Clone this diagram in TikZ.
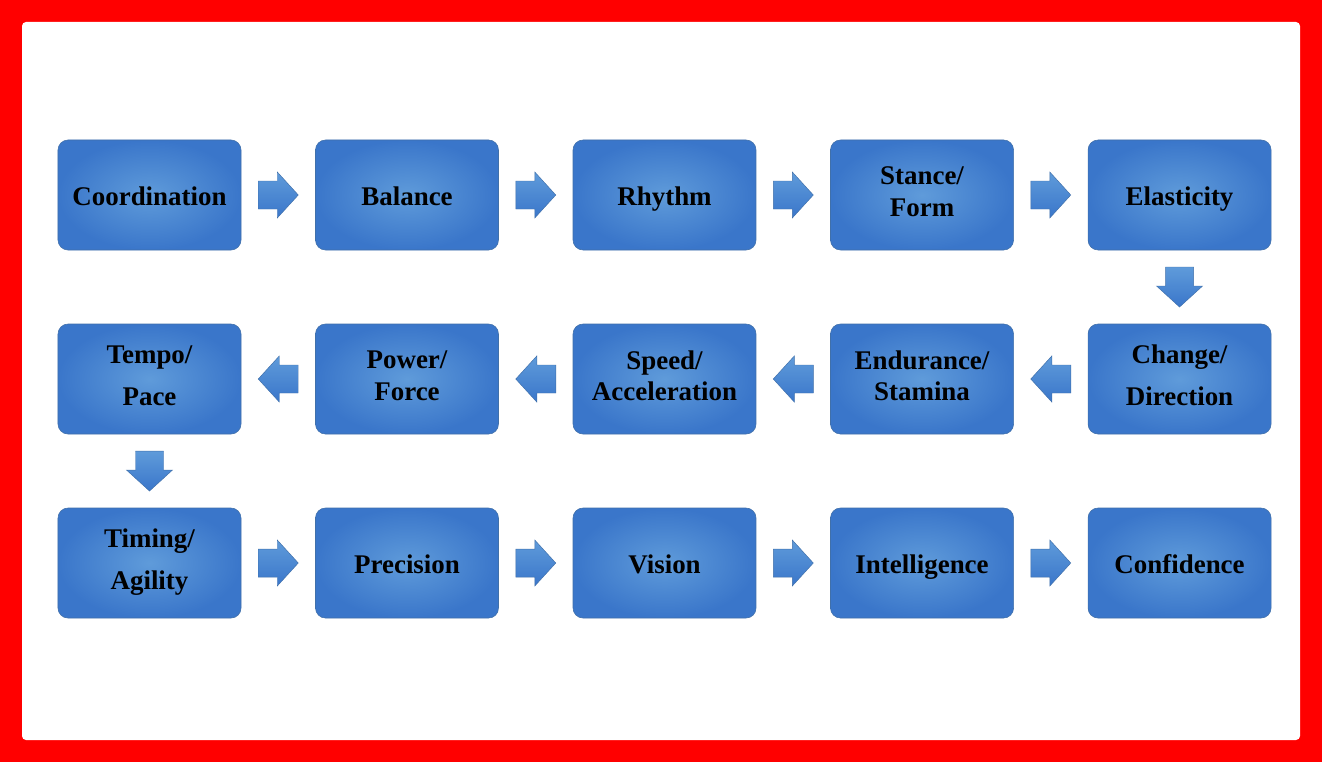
\documentclass[tikz,border=0pt]{standalone}
\usepackage{fontspec}
\setmainfont{Liberation Serif}
\usepackage{tikz}
\usetikzlibrary{calc, positioning}

\definecolor{frame}{RGB}{255,0,0}
\definecolor{boxlight}{RGB}{95,155,218}
\definecolor{boxdark}{RGB}{58,118,202}
\definecolor{boxedge}{RGB}{64,112,170}

\tikzset{
    skill/.style={rounded corners=0.3cm, draw=boxedge, line width=0.5pt,
        inner color=boxlight, outer color=boxdark,
        minimum width=5.49cm, minimum height=3.3cm, inner sep=0pt, outer sep=0pt,
        align=center, font=\fontsize{23}{27}\selectfont\bfseries,
        execute at begin node=\rule{0pt}{23.6pt},
        execute at end node=\rule[-6pt]{0pt}{6pt}},
    blockarrow/.pic={
        \draw[draw=boxedge, line width=0.4pt, top color=boxlight, bottom color=boxdark]
            (-20,-14) -- (-1,-14) -- (-1,-23) -- (20,0) -- (-1,23) -- (-1,14) -- (-20,14) -- cycle;
    }
}

\begin{document}
\begin{tikzpicture}[x=0.03cm, y=-0.03cm]
    % 1. Khung nền
    \fill[frame] (0,0) rectangle (1322,762);
    \fill[white, rounded corners=0.12cm] (22,22) rectangle (1300,740);
    \useasboundingbox (0,0) rectangle (1322,762);

    % 2. Hàng 1
    \node[skill] (coord) at (149.5,195) {Coordination};
    \node[skill, right=2.235cm of coord] (balance) {Balance};
    \node[skill, right=2.235cm of balance] (rhythm) {Rhythm};
    \node[skill, right=2.235cm of rhythm] (stance) {Stance/\\Form};
    \node[skill, right=2.235cm of stance] (elastic) {Elasticity};

    % 3. Hàng 2 (từ phải sang trái)
    \node[skill, below=2.22cm of elastic] (change) {Change/\\[9pt]Direction};
    \node[skill, left=2.235cm of change] (endur) {Endurance/\\Stamina};
    \node[skill, left=2.235cm of endur] (speed) {Speed/\\Acceleration};
    \node[skill, left=2.235cm of speed] (power) {Power/\\Force};
    \node[skill, left=2.235cm of power] (tempo) {Tempo/\\[9pt]Pace};

    % 4. Hàng 3
    \node[skill, below=2.22cm of tempo] (timing) {Timing/\\[9pt]Agility};
    \node[skill, right=2.235cm of timing] (precision) {Precision};
    \node[skill, right=2.235cm of precision] (vision) {Vision};
    \node[skill, right=2.235cm of vision] (intel) {Intelligence};
    \node[skill, right=2.235cm of intel] (confid) {Confidence};

    % 5. Mũi tên khối
    \pic at ($(coord.east)!0.5!(balance.west)$) {blockarrow};
    \pic at ($(balance.east)!0.5!(rhythm.west)$) {blockarrow};
    \pic at ($(rhythm.east)!0.5!(stance.west)$) {blockarrow};
    \pic at ($(stance.east)!0.5!(elastic.west)$) {blockarrow};
    \pic[rotate=-90] at ($(elastic.south)!0.5!(change.north)$) {blockarrow};
    \pic[rotate=180] at ($(change.west)!0.5!(endur.east)$) {blockarrow};
    \pic[rotate=180] at ($(endur.west)!0.5!(speed.east)$) {blockarrow};
    \pic[rotate=180] at ($(speed.west)!0.5!(power.east)$) {blockarrow};
    \pic[rotate=180] at ($(power.west)!0.5!(tempo.east)$) {blockarrow};
    \pic[rotate=-90] at ($(tempo.south)!0.5!(timing.north)$) {blockarrow};
    \pic at ($(timing.east)!0.5!(precision.west)$) {blockarrow};
    \pic at ($(precision.east)!0.5!(vision.west)$) {blockarrow};
    \pic at ($(vision.east)!0.5!(intel.west)$) {blockarrow};
    \pic at ($(intel.east)!0.5!(confid.west)$) {blockarrow};
\end{tikzpicture}
\end{document}
